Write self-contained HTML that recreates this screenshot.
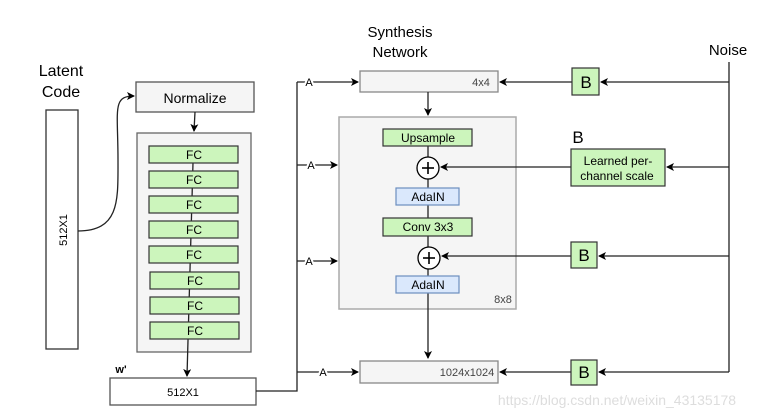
<!DOCTYPE html>
<html><head><style>body{margin:0;background:#fff}svg{display:block}</style></head><body>
<svg width="766" height="420" xmlns="http://www.w3.org/2000/svg" font-family="Liberation Sans, sans-serif">
<defs><marker id="a" markerWidth="8" markerHeight="8" refX="7" refY="4" orient="auto" markerUnits="userSpaceOnUse"><path d="M0,0 L8,4 L0,8 L2,4z" fill="#000"/></marker></defs>
<g fill="none" stroke="#222" stroke-width="1.3">
<rect x="46" y="110" width="32" height="239" fill="#fff" stroke="#333"/>
<path d="M78,231 C120,231 118,200 118,160 C118,110 112,96 134,96" marker-end="url(#a)"/>
<rect x="136" y="82" width="118" height="30" fill="#f5f5f5" stroke="#555"/>
<line x1="195" y1="112" x2="194" y2="131" marker-end="url(#a)"/>
<rect x="137" y="133" width="114" height="219" fill="#f5f5f5" stroke="#666"/>
<line x1="193" y1="163" x2="187" y2="376" marker-end="url(#a)"/>
<rect x="110" y="378" width="146" height="27" fill="#fff" stroke="#555"/>
<polyline points="256,391 297,391 297,82"/>
<line x1="297" y1="82" x2="358" y2="82" marker-end="url(#a)"/>
<line x1="297" y1="165" x2="337" y2="165" marker-end="url(#a)"/>
<line x1="297" y1="261" x2="337" y2="261" marker-end="url(#a)"/>
<line x1="297" y1="372" x2="358" y2="372" marker-end="url(#a)"/>
<rect x="360" y="71" width="138" height="21" fill="#f5f5f5" stroke="#888"/>
<line x1="428" y1="92" x2="428" y2="115" marker-end="url(#a)"/>
<rect x="339" y="117" width="177" height="192" fill="#f5f5f5" stroke="#aaa" stroke-width="1.5"/>
<line x1="428" y1="146" x2="428" y2="358" marker-end="url(#a)"/>
<rect x="360" y="361" width="138" height="22" fill="#f5f5f5" stroke="#888"/>
<polyline points="729,62 729,372"/>
<line x1="729" y1="82" x2="601" y2="82" marker-end="url(#a)"/>
<line x1="572" y1="82" x2="500" y2="82" marker-end="url(#a)"/>
<line x1="729" y1="167" x2="667" y2="167" marker-end="url(#a)"/>
<line x1="571" y1="167" x2="441" y2="167" marker-end="url(#a)"/>
<line x1="729" y1="256" x2="599" y2="256" marker-end="url(#a)"/>
<line x1="571" y1="256" x2="442" y2="256" marker-end="url(#a)"/>
<line x1="729" y1="372" x2="599" y2="372" marker-end="url(#a)"/>
<line x1="571" y1="372" x2="500" y2="372" marker-end="url(#a)"/>
</g>
<g fill="#ccf5bc" stroke="#333" stroke-width="1.2">
<rect x="149" y="146" width="89" height="17"/><rect x="149" y="171" width="89" height="17"/>
<rect x="149" y="196" width="89" height="17"/><rect x="149" y="221" width="89" height="17"/>
<rect x="149" y="246" width="89" height="17"/><rect x="150" y="272" width="89" height="17"/>
<rect x="150" y="297" width="89" height="17"/><rect x="150" y="322" width="89" height="17"/>
<rect x="383" y="129" width="89" height="17"/><rect x="383" y="218" width="89" height="18"/>
<rect x="572" y="68" width="27" height="27"/><rect x="571" y="242" width="26" height="26"/>
<rect x="571" y="360" width="26" height="25"/><rect x="571" y="149" width="94" height="37"/>
</g>
<g fill="#dae8fc" stroke="#6c8ebf" stroke-width="1.2">
<rect x="396" y="188" width="63" height="17"/><rect x="396" y="276" width="63" height="17"/>
</g>
<g fill="#fff" stroke="#000" stroke-width="1.3">
<circle cx="428" cy="168" r="11"/><circle cx="429" cy="258" r="11"/>
</g>
<g stroke="#000" stroke-width="1.6">
<line x1="422" y1="168" x2="434" y2="168"/><line x1="428" y1="162" x2="428" y2="174"/>
<line x1="423" y1="258" x2="435" y2="258"/><line x1="429" y1="252" x2="429" y2="264"/>
</g>
<g fill="#000" text-anchor="middle">
<text x="61" y="76" font-size="16">Latent</text><text x="61" y="97" font-size="16">Code</text>
<text x="195" y="103" font-size="14">Normalize</text>
<g font-size="12"><text x="194" y="159">FC</text><text x="194" y="184">FC</text><text x="194" y="209">FC</text><text x="194" y="234">FC</text><text x="194" y="259">FC</text><text x="195" y="285">FC</text><text x="195" y="310">FC</text><text x="195" y="335">FC</text></g>
<text x="0" y="0" font-size="11" transform="translate(67,230) rotate(-90)">512X1</text>
<text x="183" y="396" font-size="11">512X1</text>
<text x="121" y="373" font-size="11" font-weight="bold">w'</text>
<g font-size="11"><text x="309" y="86" stroke="#fff" stroke-width="4" paint-order="stroke">A</text><text x="311" y="169" stroke="#fff" stroke-width="4" paint-order="stroke">A</text><text x="309" y="265" stroke="#fff" stroke-width="4" paint-order="stroke">A</text><text x="323" y="376" stroke="#fff" stroke-width="4" paint-order="stroke">A</text></g>
<text x="400" y="37" font-size="15">Synthesis</text><text x="400" y="57" font-size="15">Network</text>
<text x="728" y="55" font-size="15">Noise</text>
<text x="481" y="86" font-size="11" fill="#444">4x4</text>
<text x="467" y="376" font-size="11" fill="#444">1024x1024</text>
<text x="503" y="303" font-size="11" fill="#444">8x8</text>
<g font-size="12"><text x="428" y="142">Upsample</text><text x="428" y="201">AdaIN</text><text x="428" y="231">Conv 3x3</text><text x="428" y="289">AdaIN</text></g>
<g font-size="17"><text x="586" y="88">B</text><text x="584" y="261">B</text><text x="584" y="378">B</text><text x="578" y="143">B</text></g>
<text x="618" y="165" font-size="12">Learned per-</text><text x="617" y="180" font-size="12">channel scale</text>
<text x="617" y="405" font-size="14" fill="#ddd">https://blog.csdn.net/weixin_43135178</text>
</g>
</svg>
</body></html>
